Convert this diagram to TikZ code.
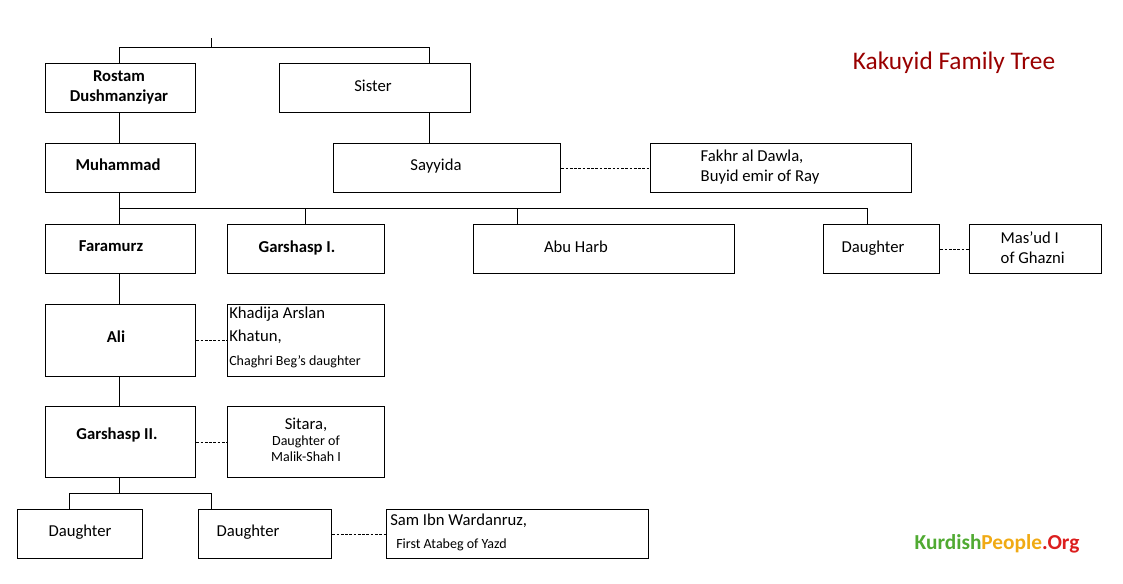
\documentclass[tikz,border=0pt]{standalone}
\usepackage{fontspec}
\setmainfont{Carlito}
\begin{document}
\begin{tikzpicture}[x=0.75pt,y=-0.75pt,
 ln/.style={draw,line width=0.6pt},
 dl/.style={draw,line width=0.6pt,dash pattern=on 2pt off 1.2pt},
 t/.style={font=\fontsize{12.5}{15}\selectfont},
 s/.style={font=\fontsize{10.5}{13}\selectfont},
 b/.style={font=\bfseries\fontsize{12.5}{15}\selectfont}]
\useasboundingbox (0,0) rectangle (1123,583);
\newcommand{\bxx}[5]{\node[draw,line width=1pt,minimum width=#4*0.75pt-#2*0.75pt,minimum height=#5*0.75pt-#3*0.75pt,inner sep=0pt,anchor=north west] (#1) at (#2,#3) {};}
\bxx{ros}{45}{63}{195}{112}
\bxx{sis}{279}{63}{470}{112}
\bxx{muh}{45}{143}{195}{192}
\bxx{say}{333}{143}{560}{192}
\bxx{fak}{650}{143}{911}{192}
\bxx{far}{45}{224}{195}{273}
\bxx{ga1}{227}{224}{384}{273}
\bxx{abu}{473}{224}{734}{273}
\bxx{dau}{823}{224}{939}{273}
\bxx{mas}{969}{224}{1101}{273}
\bxx{ali}{45}{304}{195}{376}
\bxx{kha}{227}{304}{384}{376}
\bxx{ga2}{45}{406}{195}{477}
\bxx{sit}{227}{406}{384}{477}
\bxx{d1}{17}{509}{142}{558}
\bxx{d2}{198}{509}{331}{558}
\bxx{sam}{386}{509}{648}{558}
\node[b,align=center] at (119,87) {Rostam\\Dushmanziyar};
\node[t] at (373,86) {Sister};
\node[b] at (118,165) {Muhammad};
\node[t] at (436,166) {Sayyida};
\node[t,align=left,anchor=west] at (696,167) {Fakhr al Dawla,\\Buyid emir of Ray};
\node[b] at (111,246) {Faramurz};
\node[b] at (297,248) {Garshasp I.};
\node[t] at (576,247) {Abu Harb};
\node[t] at (873,248) {Daughter};
\node[t,align=left,anchor=west] at (996,248) {Mas'ud I\\of Ghazni};
\node[b] at (116,337) {Ali};
\node[t,anchor=west,inner sep=0pt] at (229,314) {Khadija Arslan};
\node[t,anchor=west,inner sep=0pt] at (229,337) {Khatun,};
\node[s,anchor=west,inner sep=0pt] at (229,362) {Chaghri Beg's daughter};
\node[align=center] at (306,440) {\fontsize{12.5}{15}\selectfont Sitara,\\\fontsize{10.5}{13}\selectfont Daughter of\\\fontsize{10.5}{13}\selectfont Malik-Shah I};
\node[b] at (117,435) {Garshasp II.};
\node[t] at (80,532) {Daughter};
\node[t] at (248,532) {Daughter};
\node[t,anchor=west,inner sep=0pt] at (390,521) {Sam Ibn Wardanruz,};
\node[s,anchor=west,inner sep=0pt] at (396,545) {First Atabeg of Yazd};
\node[font=\fontsize{19}{22}\selectfont,text={rgb,255:red,153;green,0;blue,0}] at (954,63) {Kakuyid Family Tree};
\node[font=\bfseries\fontsize{16}{18}\selectfont] at (997,544) {\textcolor[RGB]{80,170,50}{Kurdish}\textcolor[RGB]{240,170,20}{People}\textcolor[RGB]{220,30,30}{.Org}};
\coordinate (top) at (211,38);
\coordinate (j1) at (211,47);
\coordinate (j2) at (119,208);
\coordinate (j3) at (119,493);
\draw[ln] (top) -- (j1) (119,47) -- (429,47);
\draw[ln] (119,47) -- (119,63) (429,47) -- (429,63);
\draw[ln] (119,112) -- (119,143); \draw[ln] (429,112) -- (429,143);
\draw[dl] (say) -- (fak);
\draw[ln] (119,192) -- (j2) -- (867,208);
\draw[ln] (119,208) -- (119,224) (305,208) -- (305,224) (517,208) -- (517,224) (867,208) -- (867,224);
\draw[dl] (dau) -- (mas);
\draw[ln] (119,273) -- (119,304); \draw[dl] (ali) -- (kha);
\draw[ln] (119,376) -- (119,406); \draw[dl] (ga2) -- (sit);
\draw[ln] (119,477) -- (j3) (69,493) -- (211,493);
\draw[ln] (69,493) -- (69,509) (211,493) -- (211,509);
\draw[dl] (d2) -- (sam);
\end{tikzpicture}
\end{document}
